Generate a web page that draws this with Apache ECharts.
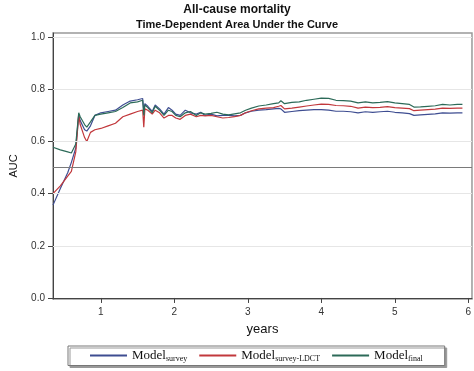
<!DOCTYPE html>
<html><head><meta charset="utf-8">
<script src="https://cdn.jsdelivr.net/npm/echarts@6/dist/echarts.min.js"></script>
<style>html,body{margin:0;padding:0;background:#fff}#c{width:474px;height:371px}</style>
</head><body><div id="c"></div>
<script>
const years = [0.35,0.45,0.55,0.60,0.66,0.70,0.72,0.78,0.81,0.86,0.92,1.00,1.10,1.20,1.30,1.40,1.50,1.57,1.585,1.60,1.64,1.70,1.74,1.80,1.86,1.92,1.97,2.02,2.08,2.15,2.22,2.30,2.36,2.42,2.50,2.58,2.66,2.74,2.82,2.90,2.97,3.05,3.15,3.25,3.35,3.42,3.45,3.50,3.60,3.70,3.80,3.90,4.00,4.10,4.20,4.30,4.40,4.50,4.60,4.70,4.80,4.90,5.00,5.10,5.20,5.26,5.35,5.45,5.55,5.65,5.75,5.85,5.92];
const modelSurvey = [0.356,0.42,0.48,0.52,0.575,0.705,0.68,0.645,0.64,0.66,0.70,0.71,0.715,0.72,0.74,0.755,0.76,0.765,0.715,0.745,0.735,0.715,0.74,0.725,0.705,0.73,0.72,0.705,0.70,0.72,0.71,0.705,0.712,0.70,0.705,0.698,0.70,0.70,0.698,0.70,0.71,0.716,0.72,0.722,0.725,0.727,0.725,0.712,0.715,0.718,0.72,0.722,0.722,0.72,0.716,0.716,0.714,0.71,0.714,0.712,0.714,0.716,0.712,0.71,0.707,0.700,0.702,0.704,0.706,0.71,0.709,0.71,0.71];
const modelLDCT = [0.40,0.43,0.467,0.485,0.56,0.70,0.665,0.615,0.60,0.635,0.645,0.65,0.66,0.67,0.695,0.705,0.715,0.72,0.655,0.725,0.72,0.705,0.72,0.71,0.69,0.70,0.70,0.69,0.685,0.70,0.705,0.695,0.70,0.698,0.70,0.695,0.69,0.692,0.695,0.70,0.71,0.718,0.725,0.728,0.73,0.735,0.738,0.725,0.728,0.732,0.736,0.74,0.743,0.742,0.738,0.737,0.735,0.728,0.732,0.73,0.731,0.734,0.73,0.728,0.726,0.718,0.72,0.722,0.724,0.728,0.727,0.728,0.728];
const modelFinal = [0.578,0.568,0.560,0.556,0.59,0.71,0.695,0.665,0.655,0.675,0.70,0.705,0.71,0.715,0.73,0.748,0.752,0.758,0.70,0.74,0.73,0.71,0.735,0.72,0.70,0.72,0.715,0.70,0.695,0.71,0.715,0.70,0.71,0.705,0.708,0.712,0.705,0.702,0.706,0.71,0.72,0.728,0.736,0.74,0.745,0.748,0.756,0.745,0.75,0.752,0.758,0.762,0.766,0.765,0.758,0.757,0.755,0.748,0.752,0.748,0.75,0.753,0.748,0.745,0.742,0.732,0.733,0.735,0.737,0.742,0.74,0.742,0.742];
const xTicks = [1,2,3,4,5,6];
const yTicks = [0,0.2,0.4,0.6,0.8,1.0];
const refLine = 0.5;

const pairs = v => years.map((t,i)=>[t,v[i]]);
const chart = echarts.init(document.getElementById('c'));
const rich = {
  m:{fontFamily:'Liberation Serif',fontSize:13,color:'#111'},
  s:{fontFamily:'Liberation Serif',fontSize:8,color:'#111',padding:[6,0,0,0]}
};
chart.setOption({
  animation:false,
  title:[
    {text:'All-cause mortality',left:'center',top:-1,textStyle:{fontFamily:'Liberation Sans',fontSize:12,fontWeight:'bold',color:'#111'}},
    {text:'Time-Dependent Area Under the Curve',left:'center',top:14,textStyle:{fontFamily:'Liberation Sans',fontSize:11,fontWeight:'bold',color:'#111'}}
  ],
  grid:{left:43,right:2,top:33,bottom:72,show:true,borderColor:'#999',borderWidth:1.5},
  legend:{
    left:68,top:346,itemWidth:37,itemHeight:2,itemGap:12,icon:'rect',
    padding:[3,22,3,22],borderColor:'#777',borderWidth:1,backgroundColor:'#fff',
    shadowColor:'#999',shadowOffsetX:2,shadowOffsetY:2,shadowBlur:0,
    data:['survey','survey-LDCT','final'],
    formatter:n=>'{m|Model}{s|'+n+'}',
    textStyle:{rich:rich}
  },
  xAxis:{type:'value',min:0.35,max:6.05,
    name:'years',nameLocation:'middle',nameGap:24,nameTextStyle:{fontFamily:'Liberation Sans',fontSize:13,color:'#111'},
    axisLine:{lineStyle:{color:'#444',width:1}},
    axisTick:{show:true,length:5,customValues:xTicks,lineStyle:{color:'#444'}},
    axisLabel:{customValues:xTicks,fontFamily:'Liberation Sans',fontSize:10,color:'#333',margin:8},
    splitLine:{show:false}},
  yAxis:{type:'value',min:-0.004,max:1.016,
    name:'AUC',nameLocation:'middle',nameGap:34,nameTextStyle:{fontFamily:'Liberation Sans',fontSize:11,color:'#111'},
    axisLine:{show:true,lineStyle:{color:'#444',width:1}},
    axisTick:{show:true,length:5,customValues:yTicks,lineStyle:{color:'#444'}},
    axisLabel:{customValues:yTicks,formatter:v=>v.toFixed(1),fontFamily:'Liberation Sans',fontSize:10,color:'#333',margin:8},
    splitLine:{show:false}},
  series:[
    {name:'survey',type:'line',data:pairs(modelSurvey),showSymbol:false,color:'#3e4d91',lineStyle:{width:1.2},
      markLine:{silent:true,symbol:'none',label:{show:false},lineStyle:{color:'#e6e6e6',width:1,type:'solid'},
        data:yTicks.slice(1).map(v=>({yAxis:v}))}},
    {name:'survey-LDCT',type:'line',data:pairs(modelLDCT),showSymbol:false,color:'#c2383c',lineStyle:{width:1.2},
      markLine:{silent:true,symbol:'none',label:{show:false},lineStyle:{color:'#7a7a7a',width:1.2,type:'solid'},
        data:[{yAxis:refLine}]}},
    {name:'final',type:'line',data:pairs(modelFinal),showSymbol:false,color:'#2c6a58',lineStyle:{width:1.2}}
  ]
});
</script></body></html>
